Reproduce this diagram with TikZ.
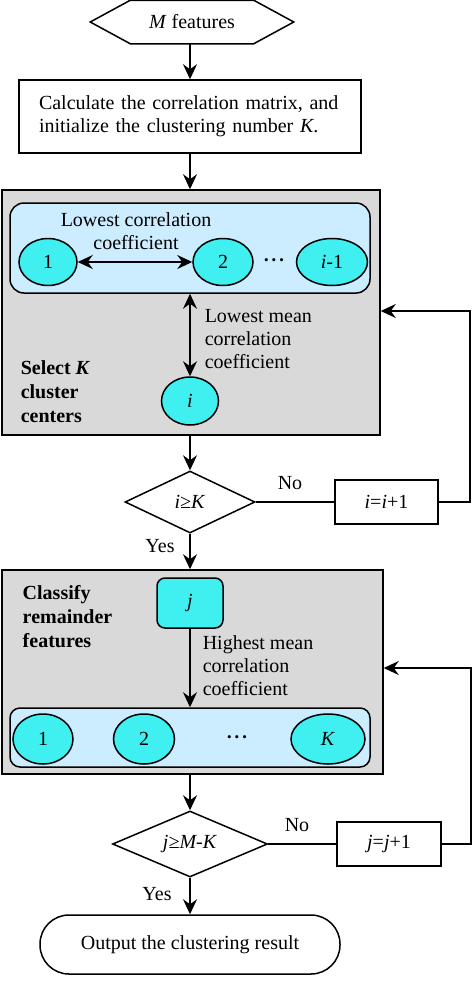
\documentclass[tikz,border=0pt]{standalone}
\usepackage{fontspec}
\setmainfont{Liberation Serif}
\usetikzlibrary{shapes.geometric,arrows.meta}
\definecolor{graybg}{RGB}{217,217,217}
\definecolor{lightblue}{RGB}{204,236,255}
\definecolor{cyanfill}{RGB}{64,240,240}
\begin{document}
\begin{tikzpicture}[x=1pt,y=-1pt,
  font=\fontsize{20}{23}\selectfont,
  line width=1.5pt,
  tip/.tip={Stealth[length=15pt,width=14pt,inset=5pt]},
  arr/.style={-tip},
  darr/.style={tip-tip},
  plainbox/.style={draw,rectangle,inner sep=0pt,fill=white},
  graybox/.style={draw,rectangle,fill=graybg,inner sep=0pt},
  bluebox/.style={draw,rectangle,fill=lightblue,inner sep=0pt,rounded corners=14pt},
  cell/.style={draw,ellipse,fill=cyanfill,inner sep=0pt,minimum height=47pt},
  decision/.style={draw,diamond,fill=white,inner sep=0pt,aspect=2},
  dotsnode/.style={inner sep=0pt,font=\fontsize{13}{13}\selectfont},
  lbl/.style={inner sep=0pt,align=left,anchor=west},
  boldlbl/.style={inner sep=0pt,align=left,anchor=west,font=\fontsize{20}{24}\selectfont\bfseries}
]
\useasboundingbox (0,0) rectangle (474,1007);
\fill[white] (0,0) rectangle (474,1007);

% M features hexagon
\node[inner sep=0pt,minimum width=122pt,minimum height=42pt] (mf) at (192,22) {\textit{M} features};
\draw (mf.north west) -- (mf.north east) -- ([xshift=40pt]mf.east) -- (mf.south east) -- (mf.south west) -- ([xshift=-40pt]mf.west) -- cycle;

% calculate box
\node[plainbox,minimum width=342pt,minimum height=73pt,text width=302pt,align=left] (calc) at (190,116.5)
  {Calculate the correlation matrix, and\\initialize the clustering number \textit{K}.};

% first gray box
\node[graybox,minimum width=378pt,minimum height=245pt] (gb1) at (191,312.5) {};
\node[bluebox,minimum width=360pt,minimum height=90pt] (lb1) at (190,248) {};
\node[cell,minimum width=58pt] (a1) at (48,262) {1};
\node[cell,minimum width=60pt] (a2) at (223,262) {2};
\node[dotsnode] (adots) at (274,262) {•\hspace{3pt}•\hspace{3pt}•};
\node[cell,minimum width=71pt] (ai) at (332,262) {\textit{i}-1};
\node[inner sep=0pt,align=center] (lcc) at (136,231) {Lowest correlation\\coefficient};
\draw[darr] (a1) -- (a2);
\node[cell,minimum width=57pt,minimum height=48pt] (ci) at (190,401) {\textit{i}};
\draw[darr] (lb1.south -| ci) -- (ci.north);
\node[lbl] (lmcc) at (204,339) {Lowest mean\\correlation\\coefficient};
\node[boldlbl] (skc) at (20,392) {Select \textit{K}\\cluster\\centers};

% decision 1
\node[decision,minimum width=130pt,minimum height=62pt] (d1) at (190,502) {\textit{i≥K}};
\node[plainbox,minimum width=103pt,minimum height=44pt] (inc1) at (386.5,502) {\textit{i}=\textit{i}+1};
\node[inner sep=0pt] (no1) at (290,483) {No};
\node[inner sep=0pt] (yes1) at (160,546) {Yes};
\coordinate (fb1) at (470,311);

% second gray box
\node[graybox,minimum width=381pt,minimum height=204pt] (gb2) at (192.5,672) {};
\node[draw,fill=cyanfill,rounded corners=8pt,inner sep=0pt,minimum width=66pt,minimum height=50pt] (jb) at (190,603) {\textit{j}};
\node[boldlbl] (crf) at (22,617) {Classify\\remainder\\features};
\node[bluebox,rounded corners=10pt,minimum width=360pt,minimum height=59pt] (lb2) at (190,737.5) {};
\node[cell,minimum width=60pt,minimum height=50pt] (b1) at (43,739) {1};
\node[cell,minimum width=61pt,minimum height=50pt] (b2) at (144,739) {2};
\node[dotsnode] (bdots) at (237,739) {•\hspace{3pt}•\hspace{3pt}•};
\node[cell,minimum width=74pt,minimum height=50pt] (bk) at (328,739) {\textit{K}};
\draw[arr] (jb.south) -- (jb.south |- lb2.north);
\node[lbl] (hmcc) at (202,666) {Highest mean\\correlation\\coefficient};

% decision 2
\node[decision,minimum width=155pt,minimum height=66pt] (d2) at (190,844) {\textit{j≥M-K}};
\node[plainbox,minimum width=104pt,minimum height=44pt] (inc2) at (389,844) {\textit{j}=\textit{j}+1};
\node[inner sep=0pt] (no2) at (297,825) {No};
\node[inner sep=0pt] (yes2) at (157,894) {Yes};
\coordinate (fb2) at (471,668);

% terminal
\node[draw,rounded corners=29pt,inner sep=0pt,minimum width=300pt,minimum height=59pt] (term) at (190,944.5) {Output the clustering result};

% main flow
\draw[arr] (mf.south -| calc) -- (calc.north);
\draw[arr] (calc.south) -- (calc.south |- gb1.north);
\draw[arr] (calc.south |- gb1.south) -- (d1.north);
\draw (d1.east) -- (inc1.west);
\draw[arr] (inc1.east) -| (fb1) -- (gb1.east |- fb1);
\draw[arr] (d1.south) -- (d1.south |- gb2.north);
\draw[arr] (d1.south |- gb2.south) -- (d2.north);
\draw (d2.east) -- (inc2.west);
\draw[arr] (inc2.east) -| (fb2) -- (gb2.east |- fb2);
\draw[arr] (d2.south) -- (term.north);
\end{tikzpicture}
\end{document}
